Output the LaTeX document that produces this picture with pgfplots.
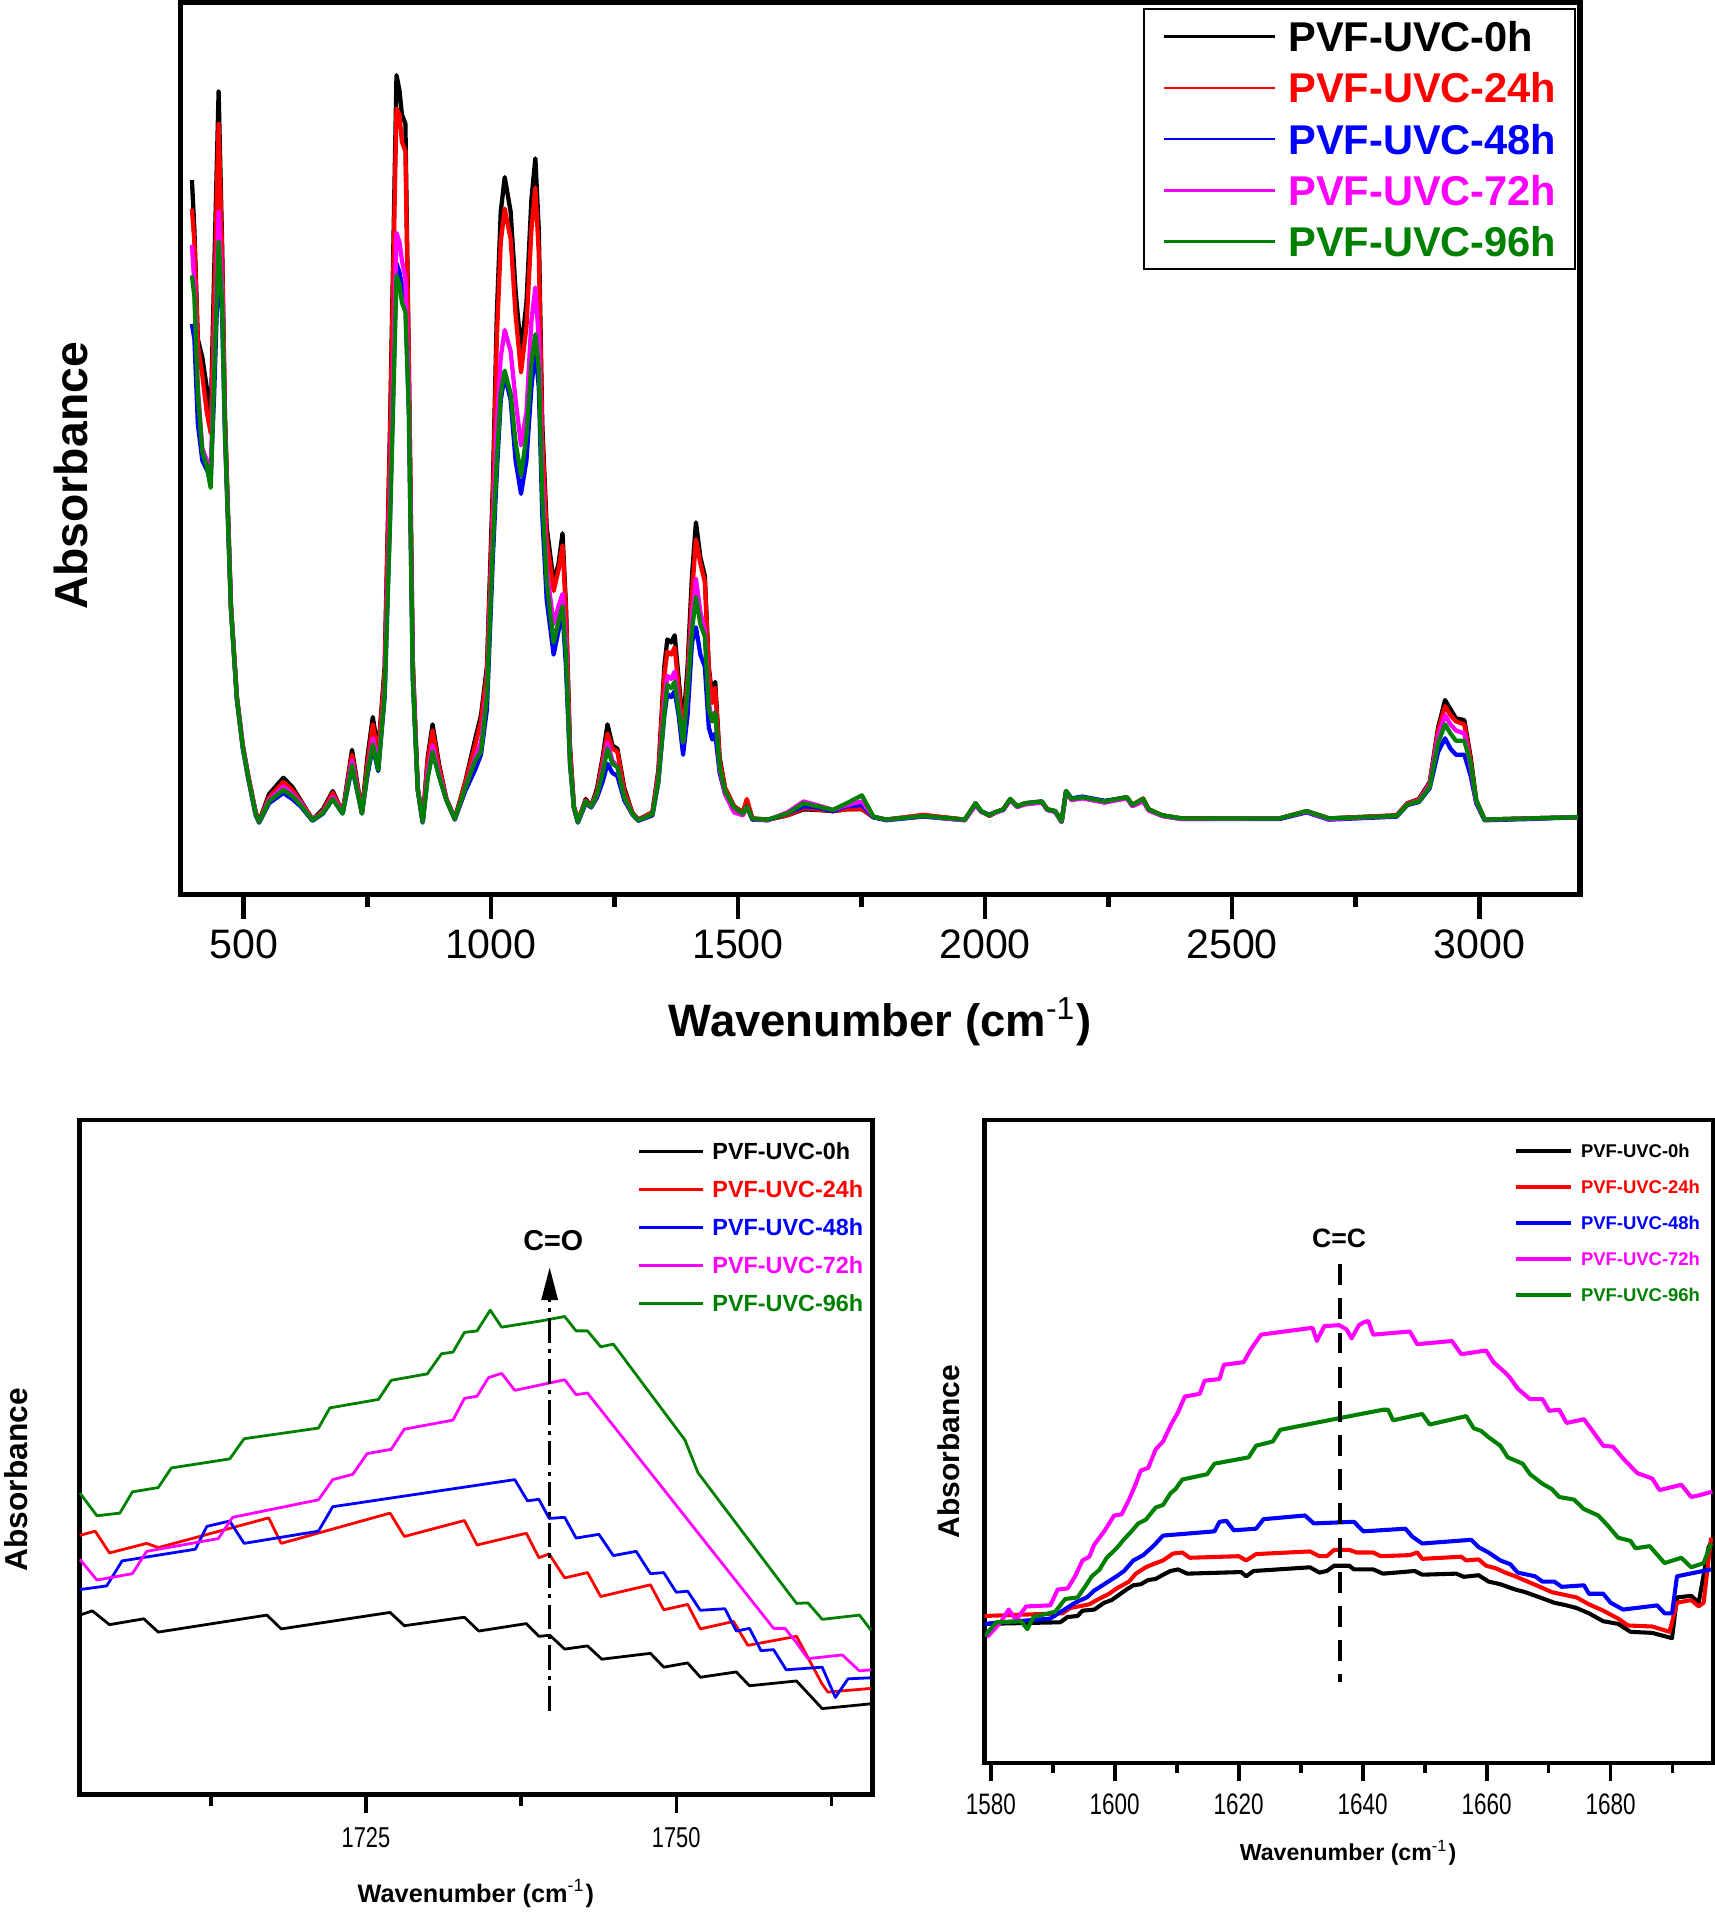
\documentclass[border=0pt]{standalone}
\usepackage{fontspec}
\setmainfont{Liberation Sans}
\newfontfamily\narrowsans[FakeStretch=0.76]{Liberation Sans}
\usepackage{pgfplots}
\usepackage{pgfplotstable}
\pgfplotsset{compat=1.18}
\usetikzlibrary{arrows.meta}

\definecolor{uvblack}{RGB}{0,0,0}
\definecolor{uvred}{RGB}{255,0,0}
\definecolor{uvblue}{RGB}{0,0,255}
\definecolor{uvmagenta}{RGB}{255,0,255}
\definecolor{uvgreen}{RGB}{0,128,0}

% Full FTIR spectra (arbitrary absorbance units), one column per irradiation time
\pgfplotstableread{
wn a0 a24 a48 a72 a96
395 1.177 1.130 0.940 1.070 1.020
400 1.095 1.075 0.915 1.005 0.985
407 0.915 0.905 0.775 0.835 0.825
416 0.885 0.855 0.715 0.735 0.730
425 0.835 0.795 0.700 0.715 0.705
433 0.785 0.760 0.685 0.700 0.670
440 1.025 0.975 0.825 0.875 0.855
449 1.323 1.270 1.055 1.125 1.075
456 1.075 1.055 0.955 0.995 0.975
462 0.785 0.780 0.755 0.765 0.760
474 0.475 0.475 0.470 0.472 0.470
486 0.325 0.325 0.320 0.322 0.322
498 0.245 0.245 0.240 0.243 0.242
509 0.195 0.195 0.190 0.193 0.192
524 0.135 0.135 0.130 0.133 0.132
531 0.120 0.120 0.118 0.119 0.119
551 0.165 0.160 0.150 0.155 0.153
580 0.192 0.185 0.167 0.178 0.172
598 0.177 0.172 0.157 0.165 0.162
615 0.155 0.153 0.145 0.150 0.147
639 0.123 0.123 0.121 0.122 0.122
660 0.140 0.137 0.133 0.135 0.134
680 0.170 0.167 0.157 0.160 0.157
700 0.135 0.135 0.133 0.134 0.133
719 0.238 0.230 0.210 0.220 0.213
739 0.135 0.135 0.133 0.134 0.133
750 0.225 0.215 0.195 0.200 0.200
761 0.292 0.280 0.243 0.257 0.247
772 0.235 0.230 0.203 0.213 0.205
785 0.375 0.365 0.325 0.335 0.330
796 0.775 0.755 0.625 0.655 0.615
809 1.350 1.295 1.040 1.090 1.020
815 1.325 1.285 1.025 1.075 1.005
820 1.285 1.240 1.005 1.045 0.975
827 1.270 1.225 0.985 1.015 0.960
834 0.875 0.875 0.795 0.825 0.795
842 0.385 0.380 0.355 0.365 0.355
852 0.175 0.175 0.172 0.173 0.172
862 0.120 0.120 0.118 0.119 0.119
872 0.225 0.220 0.195 0.200 0.190
882 0.280 0.270 0.235 0.245 0.235
895 0.215 0.210 0.195 0.200 0.195
910 0.157 0.157 0.155 0.156 0.155
927 0.125 0.125 0.123 0.124 0.124
948 0.185 0.183 0.170 0.175 0.175
968 0.255 0.245 0.205 0.225 0.220
980 0.295 0.285 0.230 0.250 0.235
992 0.375 0.365 0.305 0.335 0.325
1004 0.675 0.645 0.555 0.595 0.575
1012 0.955 0.915 0.695 0.775 0.715
1020 1.125 1.075 0.815 0.885 0.825
1028 1.182 1.130 0.855 0.930 0.863
1040 1.125 1.080 0.815 0.895 0.825
1050 0.995 0.955 0.715 0.815 0.745
1061 0.895 0.860 0.660 0.740 0.690
1072 0.975 0.935 0.715 0.795 0.755
1082 1.145 1.095 0.835 0.945 0.875
1090 1.213 1.165 0.900 1.000 0.923
1097 1.095 1.055 0.835 0.915 0.865
1104 0.775 0.755 0.625 0.685 0.655
1113 0.605 0.585 0.485 0.535 0.515
1127 0.515 0.500 0.395 0.445 0.415
1137 0.545 0.535 0.435 0.475 0.450
1145 0.595 0.575 0.465 0.495 0.475
1152 0.475 0.465 0.375 0.415 0.395
1160 0.245 0.240 0.215 0.225 0.220
1168 0.145 0.145 0.142 0.143 0.143
1176 0.120 0.120 0.118 0.119 0.119
1192 0.157 0.155 0.150 0.153 0.153
1203 0.145 0.145 0.143 0.144 0.144
1215 0.175 0.170 0.160 0.165 0.165
1226 0.225 0.220 0.185 0.205 0.200
1236 0.280 0.265 0.215 0.250 0.240
1246 0.245 0.240 0.200 0.220 0.215
1256 0.240 0.235 0.195 0.210 0.210
1270 0.175 0.170 0.155 0.160 0.160
1286 0.135 0.135 0.132 0.133 0.133
1298 0.123 0.123 0.121 0.122 0.122
1327 0.135 0.135 0.130 0.132 0.132
1339 0.205 0.200 0.185 0.190 0.187
1351 0.375 0.360 0.295 0.315 0.300
1357 0.420 0.400 0.330 0.360 0.345
1365 0.415 0.395 0.325 0.355 0.340
1372 0.427 0.407 0.335 0.367 0.350
1380 0.355 0.340 0.295 0.310 0.305
1389 0.275 0.260 0.230 0.250 0.250
1398 0.375 0.355 0.295 0.335 0.335
1407 0.525 0.495 0.415 0.455 0.435
1415 0.613 0.585 0.440 0.520 0.490
1424 0.555 0.545 0.395 0.465 0.445
1433 0.525 0.515 0.375 0.435 0.425
1441 0.375 0.370 0.275 0.315 0.305
1448 0.325 0.315 0.255 0.285 0.285
1454 0.350 0.340 0.265 0.300 0.300
1463 0.225 0.220 0.200 0.207 0.210
1474 0.175 0.175 0.165 0.165 0.170
1492 0.145 0.145 0.142 0.135 0.143
1510 0.135 0.135 0.132 0.130 0.133
1518 0.155 0.157 0.145 0.143 0.145
1529 0.125 0.125 0.123 0.124 0.124
1560 0.123 0.123 0.122 0.122 0.123
1600 0.130 0.130 0.133 0.135 0.133
1633 0.140 0.142 0.145 0.153 0.150
1660 0.139 0.140 0.143 0.147 0.145
1692 0.137 0.137 0.137 0.139 0.139
1720 0.140 0.140 0.145 0.147 0.150
1751 0.140 0.141 0.147 0.153 0.163
1774 0.127 0.127 0.127 0.128 0.128
1800 0.123 0.123 0.122 0.123 0.123
1875 0.130 0.131 0.128 0.129 0.129
1959 0.123 0.123 0.122 0.122 0.123
1981 0.150 0.148 0.148 0.147 0.150
1992 0.137 0.137 0.136 0.136 0.137
2009 0.130 0.129 0.131 0.130 0.130
2020 0.135 0.134 0.135 0.134 0.135
2037 0.140 0.140 0.139 0.139 0.140
2051 0.157 0.156 0.156 0.155 0.157
2065 0.145 0.145 0.144 0.144 0.145
2081 0.150 0.150 0.149 0.148 0.150
2115 0.153 0.152 0.152 0.151 0.153
2126 0.140 0.140 0.139 0.139 0.140
2142 0.137 0.137 0.136 0.136 0.137
2155 0.120 0.120 0.119 0.119 0.120
2164 0.170 0.169 0.170 0.168 0.170
2175 0.157 0.157 0.158 0.155 0.157
2197 0.160 0.160 0.161 0.158 0.160
2242 0.153 0.153 0.154 0.151 0.153
2287 0.160 0.160 0.159 0.158 0.160
2298 0.147 0.147 0.146 0.145 0.147
2320 0.157 0.158 0.155 0.153 0.157
2331 0.140 0.140 0.139 0.138 0.140
2359 0.130 0.130 0.129 0.129 0.130
2398 0.125 0.125 0.124 0.124 0.125
2596 0.125 0.125 0.124 0.125 0.125
2651 0.137 0.137 0.135 0.136 0.137
2696 0.125 0.125 0.123 0.124 0.125
2833 0.130 0.130 0.128 0.129 0.129
2855 0.150 0.150 0.147 0.148 0.148
2878 0.157 0.156 0.152 0.154 0.153
2900 0.185 0.183 0.175 0.180 0.177
2917 0.275 0.270 0.235 0.260 0.250
2931 0.320 0.310 0.257 0.295 0.280
2942 0.305 0.295 0.240 0.280 0.265
2953 0.290 0.285 0.230 0.270 0.253
2970 0.287 0.280 0.230 0.265 0.253
2983 0.225 0.220 0.195 0.210 0.215
2994 0.155 0.155 0.150 0.153 0.155
3011 0.123 0.123 0.122 0.123 0.123
3100 0.125 0.125 0.124 0.125 0.125
3200 0.127 0.127 0.127 0.127 0.127
}\fullspectrum

% C=O region
\pgfplotstableread{
wn a
1701.94 0.338
1702.95 0.346
1704.33 0.320
1707.10 0.331
1708.26 0.306
1717.02 0.338
1718.17 0.312
1726.94 0.343
1728.09 0.318
1732.93 0.334
1734.09 0.308
1737.92 0.322
1738.93 0.298
1739.81 0.300
1741.01 0.274
1742.85 0.280
1744.00 0.255
1747.92 0.266
1748.99 0.240
1750.92 0.248
1751.94 0.221
1754.84 0.231
1755.90 0.205
1759.69 0.214
1761.76 0.162
1765.68 0.171
}\coZero
\pgfplotstableread{
wn a
1701.94 0.488
1703.18 0.496
1704.33 0.455
1707.33 0.473
1708.26 0.465
1717.16 0.521
1718.17 0.473
1726.94 0.530
1728.09 0.486
1732.93 0.516
1733.95 0.470
1737.92 0.492
1738.93 0.446
1739.76 0.453
1741.01 0.408
1742.85 0.418
1743.91 0.373
1747.92 0.395
1748.99 0.348
1750.92 0.358
1751.94 0.312
1754.61 0.326
1755.77 0.281
1759.69 0.298
1761.76 0.208
1762.22 0.193
1765.68 0.200
}\coTwentyFour
\pgfplotstableread{
wn a
1701.94 0.386
1704.11 0.393
1705.35 0.440
1711.25 0.462
1712.18 0.505
1714.02 0.515
1715.18 0.473
1721.17 0.496
1722.32 0.542
1736.99 0.593
1738.01 0.553
1738.93 0.556
1739.76 0.520
1741.01 0.522
1741.93 0.483
1743.77 0.490
1744.93 0.450
1746.77 0.458
1747.92 0.416
1748.99 0.418
1750.00 0.381
1750.92 0.383
1751.94 0.347
1753.92 0.350
1754.84 0.308
1755.90 0.313
1756.83 0.271
1757.84 0.273
1758.86 0.235
1761.76 0.240
1762.82 0.183
1763.84 0.218
1765.68 0.220
}\coFortyEight
\pgfplotstableread{
wn a
1701.94 0.443
1703.32 0.404
1706.18 0.416
1707.33 0.458
1713.10 0.482
1714.25 0.522
1721.17 0.555
1722.32 0.593
1723.94 0.603
1725.09 0.642
1727.03 0.650
1728.09 0.688
1732.01 0.705
1732.93 0.746
1733.95 0.750
1734.87 0.785
1735.93 0.793
1736.99 0.761
1741.01 0.781
1741.93 0.753
1742.85 0.756
1757.84 0.313
1758.76 0.313
1759.69 0.286
1760.61 0.256
1763.38 0.263
1764.76 0.233
1765.68 0.235
}\coSeventyTwo
\pgfplotstableread{
wn a
1701.94 0.568
1703.32 0.525
1705.17 0.530
1706.18 0.570
1708.26 0.578
1709.32 0.615
1714.02 0.632
1715.18 0.670
1721.17 0.690
1722.09 0.728
1726.01 0.744
1727.03 0.780
1729.94 0.792
1731.09 0.830
1732.01 0.833
1732.93 0.870
1733.95 0.873
1735.01 0.912
1735.93 0.880
1739.16 0.892
1741.01 0.900
1741.93 0.873
1742.85 0.873
1743.91 0.843
1744.93 0.848
1750.69 0.668
1751.75 0.606
1759.69 0.360
1760.61 0.361
1761.76 0.330
1764.76 0.338
1765.68 0.310
}\coNinetySix

% C=C region
\pgfplotstableread{
wn a
1579.0 0.263
1591.2 0.266
1592.4 0.276
1594.0 0.278
1594.8 0.288
1596.7 0.290
1598.3 0.303
1599.5 0.308
1600.7 0.318
1601.9 0.328
1603.0 0.336
1604.2 0.338
1605.4 0.346
1606.6 0.348
1607.8 0.356
1609.0 0.363
1610.2 0.366
1611.7 0.358
1620.4 0.361
1621.2 0.353
1622.4 0.363
1631.5 0.370
1633.0 0.360
1634.2 0.363
1635.4 0.373
1637.8 0.373
1638.6 0.366
1641.7 0.366
1643.3 0.358
1648.4 0.363
1649.6 0.356
1655.1 0.358
1656.3 0.352
1658.7 0.355
1660.3 0.343
1662.2 0.338
1664.6 0.328
1666.2 0.323
1668.6 0.313
1670.9 0.303
1672.9 0.298
1674.5 0.293
1676.5 0.283
1678.8 0.268
1681.2 0.263
1683.2 0.248
1686.7 0.246
1689.9 0.236
1690.7 0.313
1693.0 0.316
1694.2 0.303
1695.8 0.408
1696.4 0.420
}\ccZero
\pgfplotstableread{
wn a
1579.0 0.278
1591.6 0.283
1592.8 0.293
1595.9 0.300
1597.1 0.308
1599.1 0.320
1600.3 0.330
1602.3 0.343
1603.4 0.358
1605.0 0.370
1606.2 0.376
1607.8 0.383
1609.4 0.396
1610.9 0.398
1612.1 0.388
1620.0 0.391
1621.2 0.383
1622.8 0.395
1631.5 0.400
1633.0 0.391
1634.2 0.391
1635.4 0.403
1637.8 0.403
1639.0 0.398
1641.7 0.398
1642.9 0.391
1647.6 0.393
1648.8 0.398
1649.6 0.386
1655.9 0.390
1656.7 0.383
1658.7 0.385
1659.9 0.373
1661.5 0.368
1663.0 0.360
1664.6 0.353
1666.6 0.343
1668.6 0.333
1670.5 0.323
1672.5 0.318
1674.5 0.313
1676.5 0.300
1678.8 0.288
1681.2 0.273
1682.8 0.260
1686.7 0.258
1689.5 0.248
1690.7 0.303
1693.0 0.308
1694.2 0.296
1695.0 0.303
1696.2 0.426
}\ccTwentyFour
\pgfplotstableread{
wn a
1579.0 0.263
1589.6 0.273
1591.6 0.288
1593.6 0.303
1595.5 0.313
1596.7 0.326
1598.3 0.338
1600.3 0.353
1601.5 0.363
1603.0 0.383
1604.6 0.393
1606.2 0.410
1607.8 0.430
1616.1 0.438
1616.9 0.456
1618.0 0.458
1619.2 0.440
1622.8 0.443
1624.0 0.461
1630.7 0.468
1632.1 0.453
1638.6 0.456
1640.1 0.438
1646.9 0.443
1648.0 0.428
1649.6 0.415
1657.5 0.422
1658.7 0.408
1660.3 0.398
1662.2 0.383
1663.8 0.376
1665.0 0.360
1667.8 0.353
1669.0 0.343
1670.9 0.343
1672.1 0.333
1675.7 0.336
1676.5 0.320
1678.8 0.320
1680.0 0.303
1682.0 0.290
1687.5 0.298
1688.7 0.283
1689.9 0.283
1690.7 0.353
1696.2 0.366
}\ccFortyEight
\pgfplotstableread{
wn a
1579.4 0.238
1580.6 0.253
1581.7 0.268
1582.9 0.290
1584.1 0.270
1585.7 0.296
1589.6 0.298
1590.8 0.328
1592.4 0.330
1593.6 0.353
1594.8 0.383
1595.9 0.390
1596.7 0.413
1598.3 0.438
1599.9 0.468
1601.1 0.470
1602.3 0.498
1603.4 0.528
1604.2 0.553
1605.4 0.558
1606.6 0.593
1607.8 0.608
1609.0 0.638
1610.2 0.663
1611.3 0.693
1613.7 0.698
1614.5 0.723
1616.9 0.726
1617.6 0.753
1620.8 0.758
1622.0 0.783
1623.6 0.810
1631.9 0.823
1632.6 0.798
1633.8 0.826
1636.2 0.828
1637.4 0.820
1638.2 0.803
1639.4 0.828
1640.1 0.833
1640.9 0.836
1641.7 0.810
1647.6 0.816
1648.8 0.792
1654.4 0.798
1655.9 0.773
1659.9 0.780
1661.1 0.758
1663.0 0.738
1663.8 0.728
1665.0 0.708
1667.0 0.688
1669.0 0.688
1670.1 0.666
1671.7 0.668
1672.9 0.643
1675.7 0.650
1677.2 0.626
1678.8 0.600
1680.4 0.598
1682.0 0.576
1684.3 0.548
1686.7 0.538
1687.9 0.516
1691.4 0.526
1693.0 0.503
1694.2 0.506
1696.4 0.513
}\ccSeventyTwo
\pgfplotstableread{
wn a
1579.0 0.240
1580.9 0.266
1584.9 0.268
1585.9 0.253
1586.9 0.276
1590.4 0.286
1592.0 0.310
1594.0 0.313
1595.2 0.333
1596.3 0.353
1597.5 0.365
1598.7 0.388
1600.3 0.406
1601.5 0.423
1602.7 0.438
1603.8 0.453
1605.0 0.460
1606.6 0.483
1607.8 0.488
1609.0 0.510
1609.8 0.518
1610.9 0.536
1614.9 0.546
1616.1 0.566
1621.6 0.578
1622.8 0.600
1625.5 0.608
1626.7 0.630
1636.2 0.652
1643.3 0.668
1644.1 0.668
1644.9 0.648
1648.8 0.658
1649.6 0.660
1650.8 0.640
1656.7 0.656
1657.9 0.633
1659.1 0.628
1660.3 0.616
1662.2 0.600
1663.4 0.578
1665.8 0.566
1667.0 0.546
1669.0 0.528
1670.5 0.518
1671.7 0.503
1674.1 0.498
1675.7 0.480
1678.0 0.468
1679.6 0.448
1681.2 0.426
1683.2 0.420
1684.0 0.406
1686.3 0.410
1688.7 0.378
1691.4 0.388
1693.0 0.370
1695.0 0.378
1696.2 0.415
}\ccNinetySix

\pgfplotsset{
  ftir/.style={
    scale only axis,
    enlargelimits=false,
    ytick=\empty,
    xtick pos=left,
    tick align=outside,
    /pgf/number format/assume math mode=true,
    /pgf/number format/1000 sep={},
    legend cell align=left,
  },
}

\begin{document}
\begin{tikzpicture}
\useasboundingbox (0,0) rectangle (14.05,15.68);

% ---- full spectrum ----
\begin{axis}[ftir,
  at={(1.48cm,8.35cm)}, anchor=south west,
  width=11.47cm, height=7.31cm,
  xmin=372, xmax=3204, ymin=0, ymax=1.47,
  axis line style={line width=1.2pt},
  xtick={500,1000,...,3000},
  minor xtick={750,1250,...,2750},
  major tick length=0.2cm, minor tick length=0.105cm,
  every tick/.style={black, line width=1.1pt},
  xticklabel style={font=\fontsize{9.6}{11}\selectfont, inner sep=0pt, anchor=north, yshift=-0.08cm},
  xlabel={Wavenumber (cm\textsuperscript{\normalfont -1})},
  xlabel style={at={(axis description cs:0.5,-0.160)}, anchor=base, inner sep=0pt,
    font=\fontsize{10.6}{12}\selectfont\bfseries},
  ylabel={Absorbance},
  ylabel style={at={(axis description cs:-0.0663,0.469)}, rotate=0, anchor=base, inner sep=0pt,
    font=\fontsize{10.8}{12}\selectfont\bfseries},
  legend style={at={(axis description cs:0.6879,0.9932)}, anchor=north west,
    draw=black, line width=0.45pt, fill=white,
    inner xsep=0.15cm, inner ysep=0.1cm, row sep=0.175cm,
    font=\fontsize{9.7}{11}\selectfont\bfseries,
    nodes={inner sep=0pt, text height=0.245cm, text depth=0pt, yshift=-0.03cm},
    /tikz/every odd column/.append style={column sep=0.1cm}},
  legend image code/.code={\draw[#1, line width=0.6pt] (0cm,-0.03cm) -- (0.91cm,-0.03cm);},
]
\addplot[uvblack, line width=1.0pt, line join=round] table[x=wn, y=a0] {\fullspectrum};
\addlegendentry{\textcolor{uvblack}{PVF-UVC-0h}}
\addplot[uvred, line width=1.0pt, line join=round] table[x=wn, y=a24] {\fullspectrum};
\addlegendentry{\textcolor{uvred}{PVF-UVC-24h}}
\addplot[uvblue, line width=1.0pt, line join=round] table[x=wn, y=a48] {\fullspectrum};
\addlegendentry{\textcolor{uvblue}{PVF-UVC-48h}}
\addplot[uvmagenta, line width=1.0pt, line join=round] table[x=wn, y=a72] {\fullspectrum};
\addlegendentry{\textcolor{uvmagenta}{PVF-UVC-72h}}
\addplot[uvgreen, line width=1.0pt, line join=round] table[x=wn, y=a96] {\fullspectrum};
\addlegendentry{\textcolor{uvgreen}{PVF-UVC-96h}}
\end{axis}

% ---- carbonyl region ----
\begin{axis}[ftir,
  at={(0.65cm,0.97cm)}, anchor=south west,
  width=6.50cm, height=5.53cm,
  xmin=1701.9, xmax=1765.8, ymin=0, ymax=1.27,
  axis line style={line width=1.1pt},
  xtick={1725,1750},
  minor xtick={1712.5,1737.5,1762.5},
  major tick length=0.15cm, minor tick length=0.095cm,
  every tick/.style={black, line width=0.8pt},
  xticklabel style={font=\narrowsans\fontsize{6.7}{8}\selectfont, inner sep=0pt, anchor=north, yshift=-0.11cm},
  xlabel={Wavenumber (cm\textsuperscript{\normalfont -1})},
  xlabel style={at={(axis description cs:0.5,-0.160)}, anchor=base, inner sep=0pt,
    font=\fontsize{5.9}{7}\selectfont\bfseries},
  ylabel={Absorbance},
  ylabel style={at={(axis description cs:-0.065,0.4665)}, rotate=0, anchor=base, inner sep=0pt,
    font=\fontsize{7.4}{9}\selectfont\bfseries},
  legend style={at={(axis description cs:0.703,0.9675)}, anchor=north west,
    draw=none, fill=none, inner sep=0pt, row sep=0.175cm,
    font=\fontsize{5.45}{7}\selectfont\bfseries,
    nodes={inner sep=0pt, text height=0.137cm, text depth=0pt},
    /tikz/every odd column/.append style={column sep=0.07cm}},
  legend image code/.code={\draw[#1] (0cm,0cm) -- (0.52cm,0cm);},
]
\addplot[uvblack, line width=0.65pt, line join=round] table[x=wn, y=a] {\coZero};
\addlegendentry{\textcolor{uvblack}{PVF-UVC-0h}}
\addplot[uvred, line width=0.65pt, line join=round] table[x=wn, y=a] {\coTwentyFour};
\addlegendentry{\textcolor{uvred}{PVF-UVC-24h}}
\addplot[uvblue, line width=0.65pt, line join=round] table[x=wn, y=a] {\coFortyEight};
\addlegendentry{\textcolor{uvblue}{PVF-UVC-48h}}
\addplot[uvmagenta, line width=0.65pt, line join=round] table[x=wn, y=a] {\coSeventyTwo};
\addlegendentry{\textcolor{uvmagenta}{PVF-UVC-72h}}
\addplot[uvgreen, line width=0.65pt, line join=round] table[x=wn, y=a] {\coNinetySix};
\addlegendentry{\textcolor{uvgreen}{PVF-UVC-96h}}
% C=O band marker
\draw[line width=0.85pt, dash pattern=on 0.2cm off 0.05cm on 0.035cm off 0.05cm,
  -{Triangle[length=0.27cm, width=0.13cm]}]
  (axis cs:1739.8,0.158) -- (axis cs:1739.8,0.993);
\node[font=\fontsize{6.7}{8}\selectfont\bfseries, anchor=center] at (axis cs:1740.1,1.043) {C=O};
\end{axis}

% ---- C=C region ----
\begin{axis}[ftir,
  at={(8.07cm,1.23cm)}, anchor=south west,
  width=5.97cm, height=5.27cm,
  xmin=1579, xmax=1696.5, ymin=0, ymax=1.216,
  axis line style={line width=1.0pt},
  xtick={1580,1600,...,1680},
  minor xtick={1590,1610,...,1690},
  major tick length=0.15cm, minor tick length=0.08cm,
  every tick/.style={black, line width=0.85pt},
  xticklabel style={font=\narrowsans\fontsize{6.9}{8}\selectfont, inner sep=0pt, anchor=north, yshift=-0.10cm},
  xlabel={Wavenumber (cm\textsuperscript{\normalfont -1})},
  xlabel style={at={(axis description cs:0.499,-0.151)}, anchor=base, inner sep=0pt,
    font=\fontsize{5.4}{7}\selectfont\bfseries},
  ylabel={Absorbance},
  ylabel style={at={(axis description cs:-0.034,0.484)}, rotate=0, anchor=base, inner sep=0pt,
    font=\fontsize{7}{8}\selectfont\bfseries},
  legend style={at={(axis description cs:0.726,0.963)}, anchor=north west,
    draw=none, fill=none, inner sep=0pt, row sep=0.187cm,
    font=\fontsize{4.3}{5}\selectfont\bfseries,
    nodes={inner sep=0pt, text height=0.108cm, text depth=0pt},
    /tikz/every odd column/.append style={column sep=0.065cm}},
  legend image code/.code={\draw[#1] (0cm,0cm) -- (0.45cm,0cm);},
]
\addplot[uvblack, line width=0.95pt, line join=round] table[x=wn, y=a] {\ccZero};
\addlegendentry{\textcolor{uvblack}{PVF-UVC-0h}}
\addplot[uvred, line width=0.95pt, line join=round] table[x=wn, y=a] {\ccTwentyFour};
\addlegendentry{\textcolor{uvred}{PVF-UVC-24h}}
\addplot[uvblue, line width=0.95pt, line join=round] table[x=wn, y=a] {\ccFortyEight};
\addlegendentry{\textcolor{uvblue}{PVF-UVC-48h}}
\addplot[uvmagenta, line width=0.95pt, line join=round] table[x=wn, y=a] {\ccSeventyTwo};
\addlegendentry{\textcolor{uvmagenta}{PVF-UVC-72h}}
\addplot[uvgreen, line width=0.95pt, line join=round] table[x=wn, y=a] {\ccNinetySix};
\addlegendentry{\textcolor{uvgreen}{PVF-UVC-96h}}
% C=C band marker
\draw[line width=0.9pt, dash pattern=on 0.17cm off 0.11cm]
  (axis cs:1636.3,0.943) -- (axis cs:1636.3,0.153);
\node[font=\fontsize{6.2}{7}\selectfont\bfseries, anchor=center] at (axis cs:1636.2,0.993) {C=C};
\end{axis}
\end{tikzpicture}
\end{document}
